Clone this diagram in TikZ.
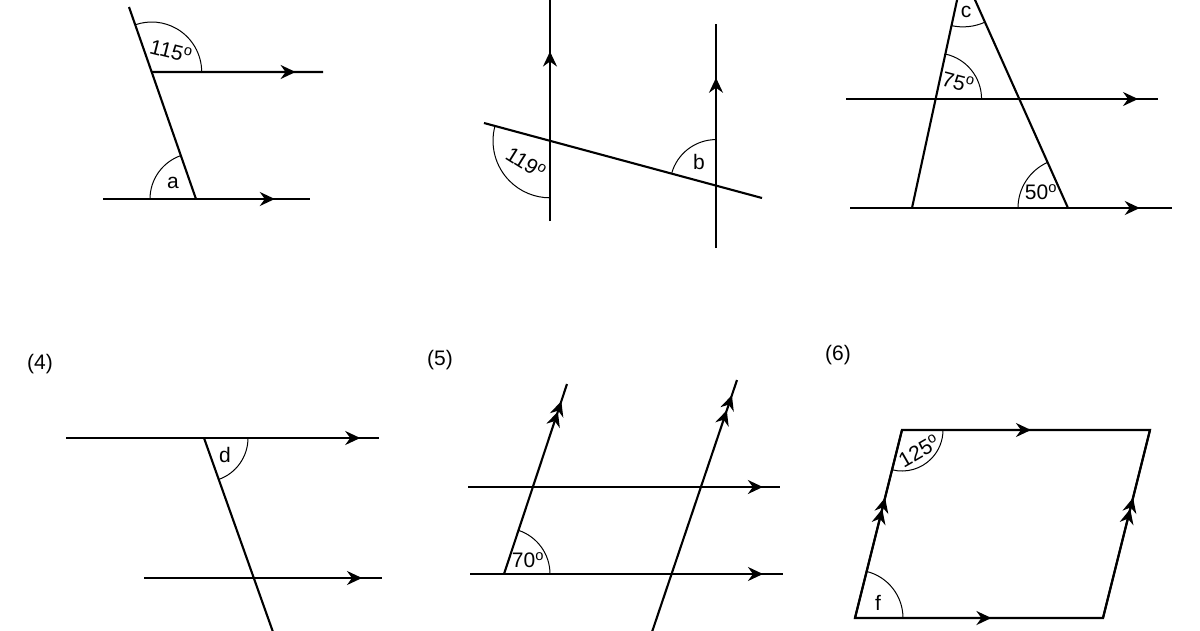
\documentclass[tikz,border=0pt]{standalone}
\usepackage{fontspec}
\setmainfont{Liberation Sans}
\usetikzlibrary{arrows.meta, decorations.markings, angles}

\begin{document}
\begin{tikzpicture}[x=1pt, y=-1pt, line width=2.1pt,
  barb/.tip={Stealth[length=15pt,width=14pt,inset=5pt]},
  arrowat/.style={postaction={decorate}, decoration={markings,
      mark=at position #1 with {\arrow{barb}}}},
  twoarrowsat/.style 2 args={postaction={decorate}, decoration={markings,
      mark=at position #1 with {\arrow{barb}},
      mark=at position #2 with {\arrow{barb}}}},
  anglemark/.style={draw, line width=1pt, angle radius=#1},
  lbl/.style={font=\fontsize{21}{24}\selectfont, inner sep=0pt}]
  \useasboundingbox (0,0) rectangle (1200,630);
  \clip (0,0) rectangle (1200,630);

  % (1)
  \coordinate (a1) at (129,7);
  \coordinate (a2) at (196,199);
  \coordinate (a3) at (103,199);
  \coordinate (a4) at (310,199);
  \coordinate (a5) at (323,72);
  \coordinate (a6) at (intersection of a1--a2 and 0,72--a5);
  \draw (a1) -- (a2);
  \draw[arrowat=0.84] (a6) -- (a5);
  \draw[arrowat=0.83] (a3) -- (a4);
  \pic[anglemark=50pt] {angle=a5--a6--a1};
  \pic[anglemark=46pt] {angle=a1--a2--a3};
  \node[lbl, rotate=-14] (l115) at (171,51) {115\textsuperscript{o}};
  \node[lbl]             (la)   at (173,183) {a};

  % (2)
  \coordinate (b1) at (550,221);
  \coordinate (b2) at (550,-2);
  \coordinate (b3) at (716,248);
  \coordinate (b4) at (716,24);
  \coordinate (b5) at (484,123);
  \coordinate (b6) at (762,198);
  \coordinate (b7) at (intersection of b1--b2 and b5--b6);
  \coordinate (b8) at (intersection of b3--b4 and b5--b6);
  \draw[arrowat=0.76] (b1) -- (b2);
  \draw[arrowat=0.76] (b3) -- (b4);
  \draw (b5) -- (b6);
  \pic[anglemark=57pt] {angle=b5--b7--b1};
  \pic[anglemark=46pt] {angle=b4--b8--b5};
  \node[lbl, rotate=-32] (l119) at (526,163) {119\textsuperscript{o}};
  \node[lbl]             (lb)   at (699,162) {b};

  % (3)
  \coordinate (c1) at (912,208);
  \coordinate (c2) at (957,0);
  \coordinate (c3) at (1068,208);
  \coordinate (c4) at (975,0);
  \coordinate (c5) at (intersection of c1--c2 and c3--c4);
  \coordinate (c6) at (846,99);
  \coordinate (c7) at (1158,99);
  \coordinate (c8) at (850,208);
  \coordinate (c9) at (1172,208);
  \coordinate (c10) at (intersection of c1--c2 and c6--c7);
  \draw (c1) -- (c5) -- (c3);
  \draw[arrowat=0.936] (c6) -- (c7);
  \draw[arrowat=0.90] (c8) -- (c9);
  \pic[anglemark=54pt] {angle=c1--c5--c3};
  \pic[anglemark=46pt] {angle=c7--c10--c5};
  \pic[anglemark=50pt] {angle=c5--c3--c1};
  \node[lbl]             (lc)  at (966,12) {c};
  \node[lbl, rotate=-15] (l75) at (958,82) {75\textsuperscript{o}};
  \node[lbl]             (l50) at (1041,192) {50\textsuperscript{o}};

  % (4)
  \node[lbl] (n4) at (40,364) {(4)};
  \coordinate (d1) at (66,438);
  \coordinate (d2) at (379,438);
  \coordinate (d3) at (144,578);
  \coordinate (d4) at (382,578);
  \coordinate (d5) at (204,438);
  \coordinate (d6) at (273,632);
  \draw[arrowat=0.94] (d1) -- (d2);
  \draw[arrowat=0.916] (d3) -- (d4);
  \draw (d5) -- (d6);
  \pic[anglemark=44pt] {angle=d6--d5--d2};
  \node[lbl] (ld) at (225,455) {d};

  % (5)
  \node[lbl] (n5) at (440,360) {(5)};
  \coordinate (e1) at (468,487);
  \coordinate (e2) at (780,487);
  \coordinate (e3) at (470,574);
  \coordinate (e4) at (783,574);
  \coordinate (e5) at (504,574);
  \coordinate (e6) at (567,384);
  \coordinate (e7) at (652,632);
  \coordinate (e8) at (737,380);
  \draw[arrowat=0.945] (e1) -- (e2);
  \draw[arrowat=0.936] (e3) -- (e4);
  \draw[twoarrowsat={0.855}{0.91}] (e5) -- (e6);
  \draw[twoarrowsat={0.88}{0.94}] (e7) -- (e8);
  \pic[anglemark=46pt] {angle=e4--e5--e6};
  \node[lbl] (l70) at (528,560) {70\textsuperscript{o}};

  % (6)
  \node[lbl] (n6) at (838,355) {(6)};
  \coordinate (f1) at (855,618);
  \coordinate (f2) at (1103,618);
  \coordinate (f3) at (1150,430);
  \coordinate (f4) at (902,430);
  \draw (f1) -- (f2) -- (f3) -- (f4) -- cycle;
  \draw[arrowat=0.55] (f1) -- (f2);
  \draw[arrowat=0.52] (f4) -- (f3);
  \draw[twoarrowsat={0.58}{0.64}] (f2) -- (f3);
  \draw[twoarrowsat={0.58}{0.64}] (f1) -- (f4);
  \pic[anglemark=41pt] {angle=f1--f4--f3};
  \pic[anglemark=48pt] {angle=f2--f1--f4};
  \node[lbl, rotate=30] (l125) at (919,451) {125\textsuperscript{o}};
  \node[lbl]            (lf)   at (878,603) {f};
\end{tikzpicture}
\end{document}
